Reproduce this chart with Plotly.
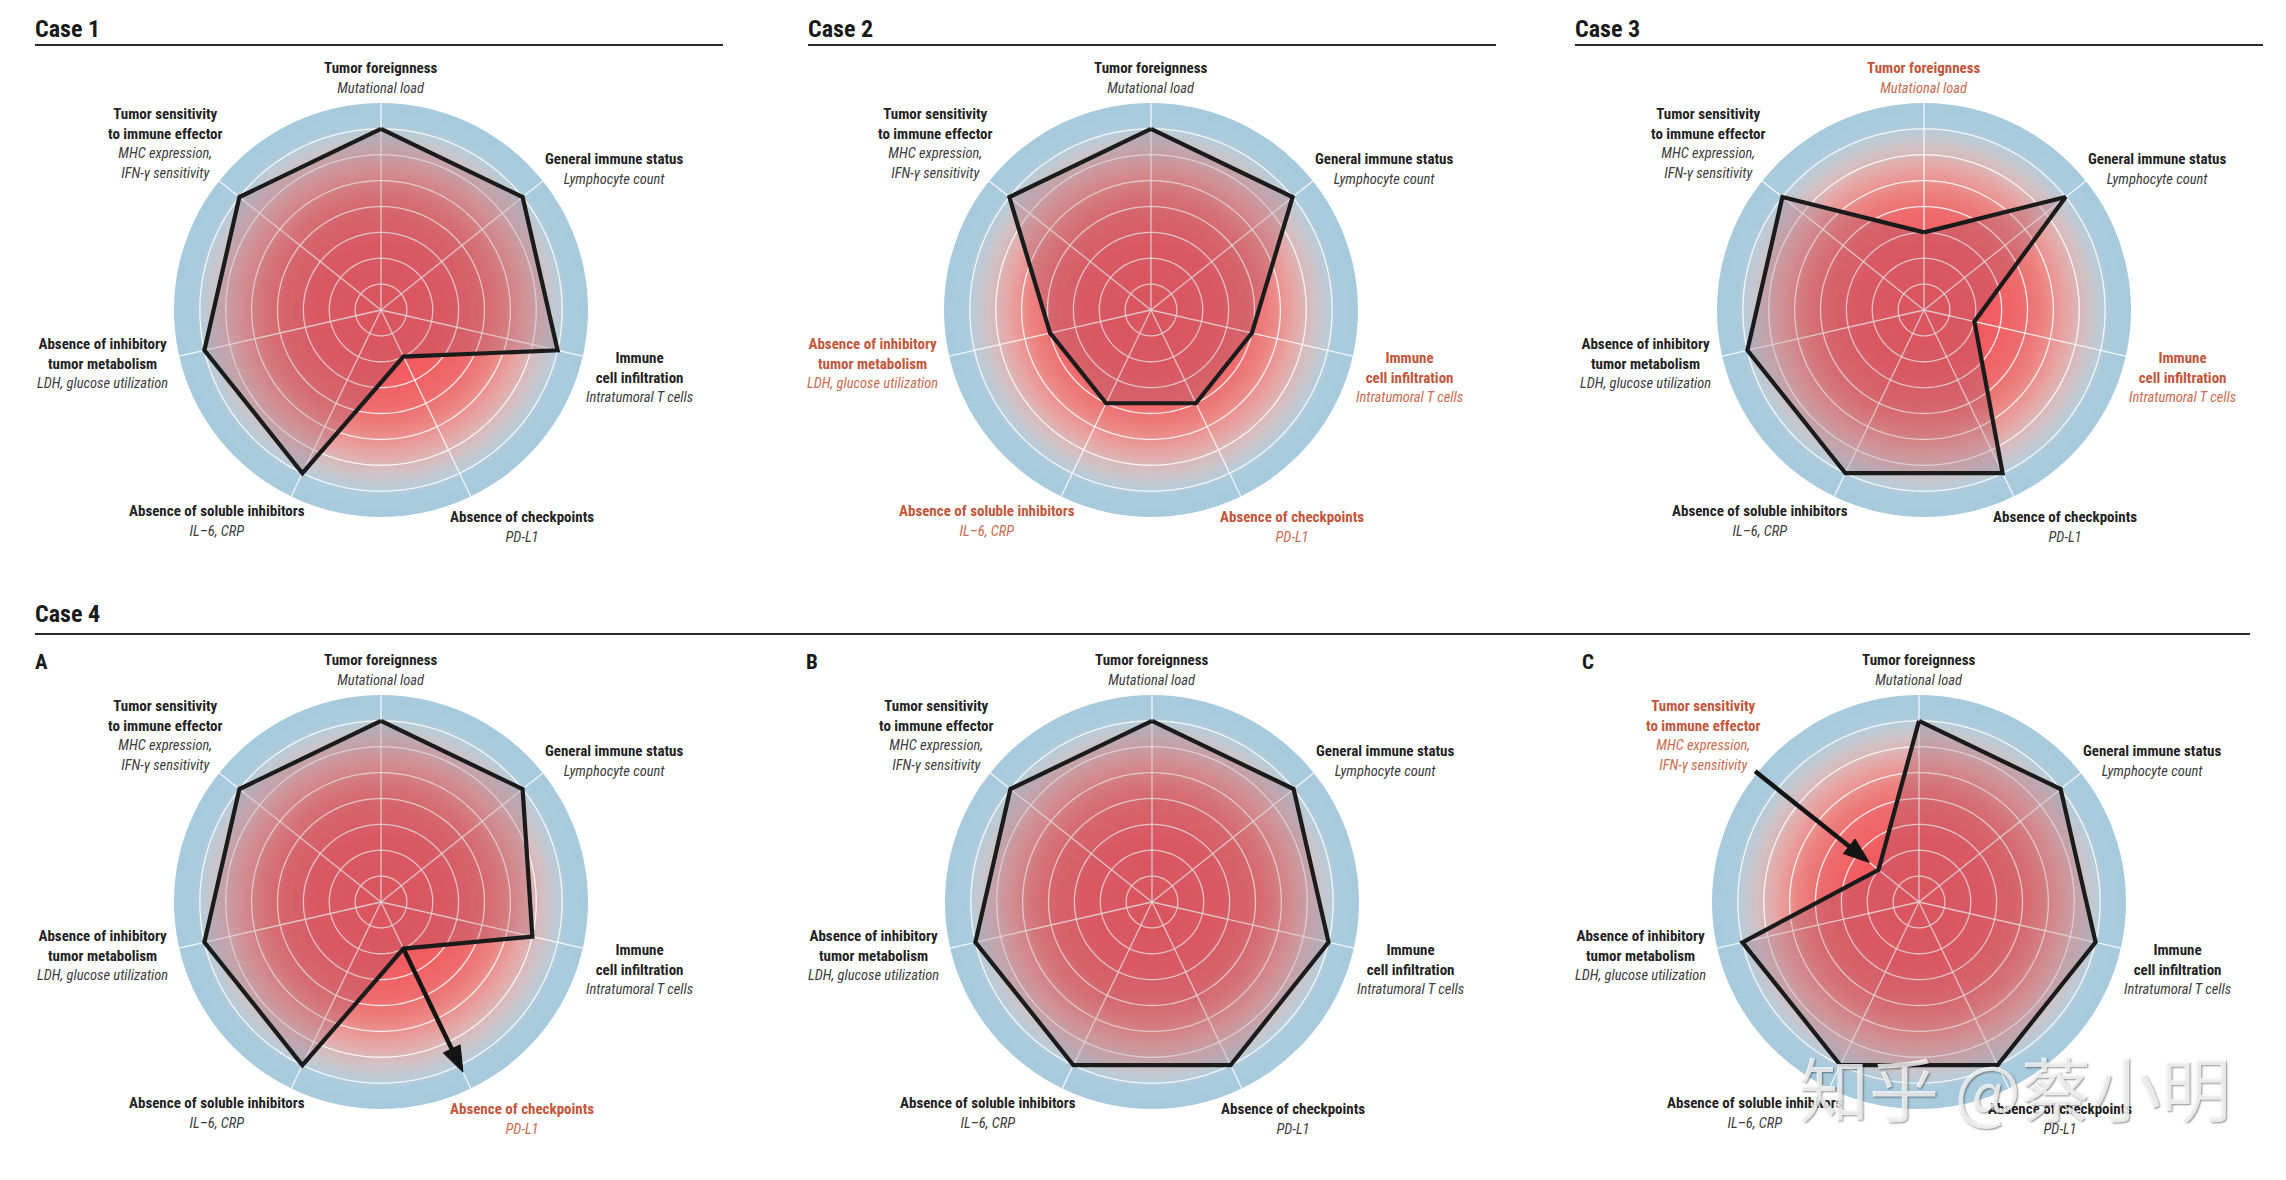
import numpy as np
import plotly.graph_objects as go

# ---------------- data ----------------
categories = [
    ["Tumor foreignness"],
    ["General immune status"],
    ["Immune", "cell infiltration"],
    ["Absence of checkpoints"],
    ["Absence of soluble inhibitors"],
    ["Absence of inhibitory", "tumor metabolism"],
    ["Tumor sensitivity", "to immune effector"],
]
subtitles = [
    ["Mutational load"],
    ["Lymphocyte count"],
    ["Intratumoral T cells"],
    ["PD-L1"],
    ["IL–6, CRP"],
    ["LDH, glucose utilization"],
    ["MHC expression,", "IFN-γ sensitivity"],
]

case1 = [7, 7, 7, 2, 7, 7, 7]
case2 = [7, 7, 4, 4, 4, 4, 7]
case3 = [3, 7, 2, 7, 7, 7, 7]
case4a = [7, 7, 6, 2, 7, 7, 7]
case4b = [7, 7, 7, 7, 7, 7, 7]
case4c = [7, 7, 7, 7, 7, 7, 2]

highlight1 = []
highlight2 = [2, 3, 4, 5]
highlight3 = [0, 2]
highlight4a = [3]
highlight4b = []
highlight4c = [6]

# arrows: (axis index, from value, to value)
arrow4a = (3, 2.0, 7.3)
arrow4c = (6, 8.1, 2.45)

grid_levels = [1, 2, 3, 4, 5, 6, 7]
outer_value = 8

# ---------------- layout constants ----------------
W, H = 2286, 1180
M = 8                    # default page body margin
FW, FH = W - 2 * M, H - 2 * M
UNIT = 25.875            # px per radial unit
R_MAX = 8.25
RPX = R_MAX * UNIT
FONT = "Liberation Sans Narrow, Roboto Condensed, DejaVu Sans Condensed, Arial Narrow, sans-serif"
DARK = "#232323"
SUBC = "#3c3c3c"
RED = "#c4553a"
RED_SUB = "#cd6a50"


def px(x):
    return (x - M) / FW


def py(y):
    return 1 - (y - M) / FH


panels = [
    dict(vals=case1, hl=highlight1, c=(381, 310), arrow=None),
    dict(vals=case2, hl=highlight2, c=(1151, 310), arrow=None),
    dict(vals=case3, hl=highlight3, c=(1924, 310), arrow=None),
    dict(vals=case4a, hl=highlight4a, c=(381, 902), arrow=arrow4a),
    dict(vals=case4b, hl=highlight4b, c=(1152, 902), arrow=None),
    dict(vals=case4c, hl=highlight4c, c=(1919, 902), arrow=arrow4c),
]

# label block centre offsets (px) relative to chart centre
label_off = [(0, -232), (233, -141), (258, 67), (141, 217), (-164, 211), (-279, 53), (-216, -167)]

n = len(categories)
angles = [i * 360.0 / n for i in range(n)]

# background gradient stops (radial value -> rgb)
stops = [
    (0.0, (243, 88, 92)),
    (2.5, (242, 92, 96)),
    (3.8, (238, 108, 110)),
    (4.6, (236, 130, 128)),
    (5.5, (232, 165, 162)),
    (6.2, (214, 190, 193)),
    (6.9, (186, 204, 215)),
    (7.25, (168, 203, 222)),
    (8.0, (167, 202, 221)),
]


def grad(r):
    for (r0, c0), (r1, c1) in zip(stops[:-1], stops[1:]):
        if r <= r1:
            t = (r - r0) / (r1 - r0)
            return "rgb(%d,%d,%d)" % tuple(round(a + (b - a) * t) for a, b in zip(c0, c1))
    return "rgb(%d,%d,%d)" % stops[-1][1]


def to_polar(x, y):
    return float(np.hypot(x, y)), float(np.degrees(np.arctan2(x, y)) % 360)


fig = go.Figure()
annotations = []
polars = {}

step = 0.1
bases = np.arange(0, outer_value, step)

for k, p in enumerate(panels):
    sp = "polar" if k == 0 else "polar%d" % (k + 1)
    cx, cy = p["c"]
    polars[sp] = dict(
        domain=dict(x=[px(cx - RPX), px(cx + RPX)], y=[py(cy + RPX), py(cy - RPX)]),
        radialaxis=dict(visible=False, range=[0, R_MAX]),
        angularaxis=dict(visible=False, rotation=90, direction="clockwise",
                         showgrid=False, showticklabels=False, showline=False),
        bgcolor="rgba(0,0,0,0)",
        barmode="overlay",
    )
    # background gradient rings
    fig.add_trace(go.Barpolar(
        subplot=sp,
        base=bases,
        r=[min(step * 1.4, outer_value - b) for b in bases],
        theta=[0] * len(bases),
        width=[360] * len(bases),
        marker=dict(color=[grad(b + step / 2) for b in bases], line=dict(width=0)),
        hoverinfo="skip",
    ))
    # grid circles & spokes
    gr, gt = [], []
    th = np.linspace(0, 360, 241)
    for lv in grid_levels:
        gr += [lv] * len(th) + [None]
        gt += list(th) + [None]
    for a in angles:
        gr += [0, outer_value, None]
        gt += [a, a, None]
    fig.add_trace(go.Scatterpolar(
        subplot=sp, r=gr, theta=gt, mode="lines",
        line=dict(color="rgba(255,255,255,0.85)", width=1.3), hoverinfo="skip",
    ))
    # profile polygon
    vals = p["vals"]
    fig.add_trace(go.Scatterpolar(
        subplot=sp, r=vals + [vals[0]], theta=angles + [angles[0]],
        mode="lines", fill="toself", fillcolor="rgba(140,80,105,0.24)",
        line=dict(color="#1b1b1b", width=4.2), hoverinfo="skip",
    ))
    # arrow
    if p["arrow"] is not None:
        ai, r_from, r_to = p["arrow"]
        a = np.radians(angles[ai])
        ux, uy = np.sin(a), np.cos(a)
        nx, ny = np.cos(a), -np.sin(a)
        sgn = 1 if r_to > r_from else -1
        head_len, half_w = 1.0, 0.36
        rb = r_to - sgn * head_len
        fig.add_trace(go.Scatterpolar(
            subplot=sp, r=[r_from, rb + sgn * 0.15], theta=[angles[ai], angles[ai]],
            mode="lines", line=dict(color="#141414", width=4.5), hoverinfo="skip",
        ))
        pts = [(r_to * ux, r_to * uy),
               (rb * ux + half_w * nx, rb * uy + half_w * ny),
               (rb * ux - half_w * nx, rb * uy - half_w * ny)]
        pr, pt = zip(*[to_polar(x, y) for x, y in pts])
        fig.add_trace(go.Scatterpolar(
            subplot=sp, r=list(pr) + [pr[0]], theta=list(pt) + [pt[0]],
            mode="lines", fill="toself", fillcolor="#141414",
            line=dict(color="#141414", width=1), hoverinfo="skip",
        ))
    # labels
    for i in range(n):
        hl = i in p["hl"]
        tc = RED if hl else DARK
        sc = RED_SUB if hl else SUBC
        lines = ["<b>%s</b>" % t for t in categories[i]]
        lines += ["<span style='font-size:14.5px;color:%s'><i>%s</i></span>" % (sc, s) for s in subtitles[i]]
        dx, dy = label_off[i]
        annotations.append(dict(
            text="<br>".join(lines), x=px(cx + dx), y=py(cy + dy),
            xref="paper", yref="paper", xanchor="center", yanchor="middle", align="center",
            showarrow=False, font=dict(family=FONT, size=15, color=tc),
        ))

# headers
headers = [("Case 1", 33, 29), ("Case 2", 806, 29), ("Case 3", 1573, 29), ("Case 4", 33, 614)]
for t, x, y in headers:
    annotations.append(dict(text="<b>%s</b>" % t, x=px(x), y=py(y), xref="paper", yref="paper",
                            xanchor="left", yanchor="middle", showarrow=False,
                            font=dict(family=FONT, size=24, color="#1a1a1a")))
for t, x, y in [("A", 33, 662), ("B", 804, 662), ("C", 1580, 662)]:
    annotations.append(dict(text="<b>%s</b>" % t, x=px(x), y=py(y), xref="paper", yref="paper",
                            xanchor="left", yanchor="middle", showarrow=False,
                            font=dict(family=FONT, size=21, color="#1a1a1a")))

shapes = []
for x0, x1, y in [(35, 723, 45), (808, 1496, 45), (1575, 2263, 45), (35, 2250, 634)]:
    shapes.append(dict(type="line", xref="paper", yref="paper", x0=px(x0), x1=px(x1),
                       y0=py(y), y1=py(y), line=dict(color="#2a2a2a", width=2.2)))

# watermark
annotations.append(dict(text="知乎 @蔡小明", x=px(2015), y=py(1086), xref="paper", yref="paper",
                        xanchor="center", yanchor="middle", showarrow=False,
                        font=dict(family="Noto Sans CJK SC", size=70, color="rgba(255,255,255,0.8)",
                                  shadow="1px 1px 2px rgba(0,0,0,0.55)")))

fig.update_layout(
    width=FW, height=FH, margin=dict(l=0, r=0, t=0, b=0),
    paper_bgcolor="white", plot_bgcolor="white", showlegend=False,
    annotations=annotations, shapes=shapes, **polars,
)

fig.write_html("out.html")
